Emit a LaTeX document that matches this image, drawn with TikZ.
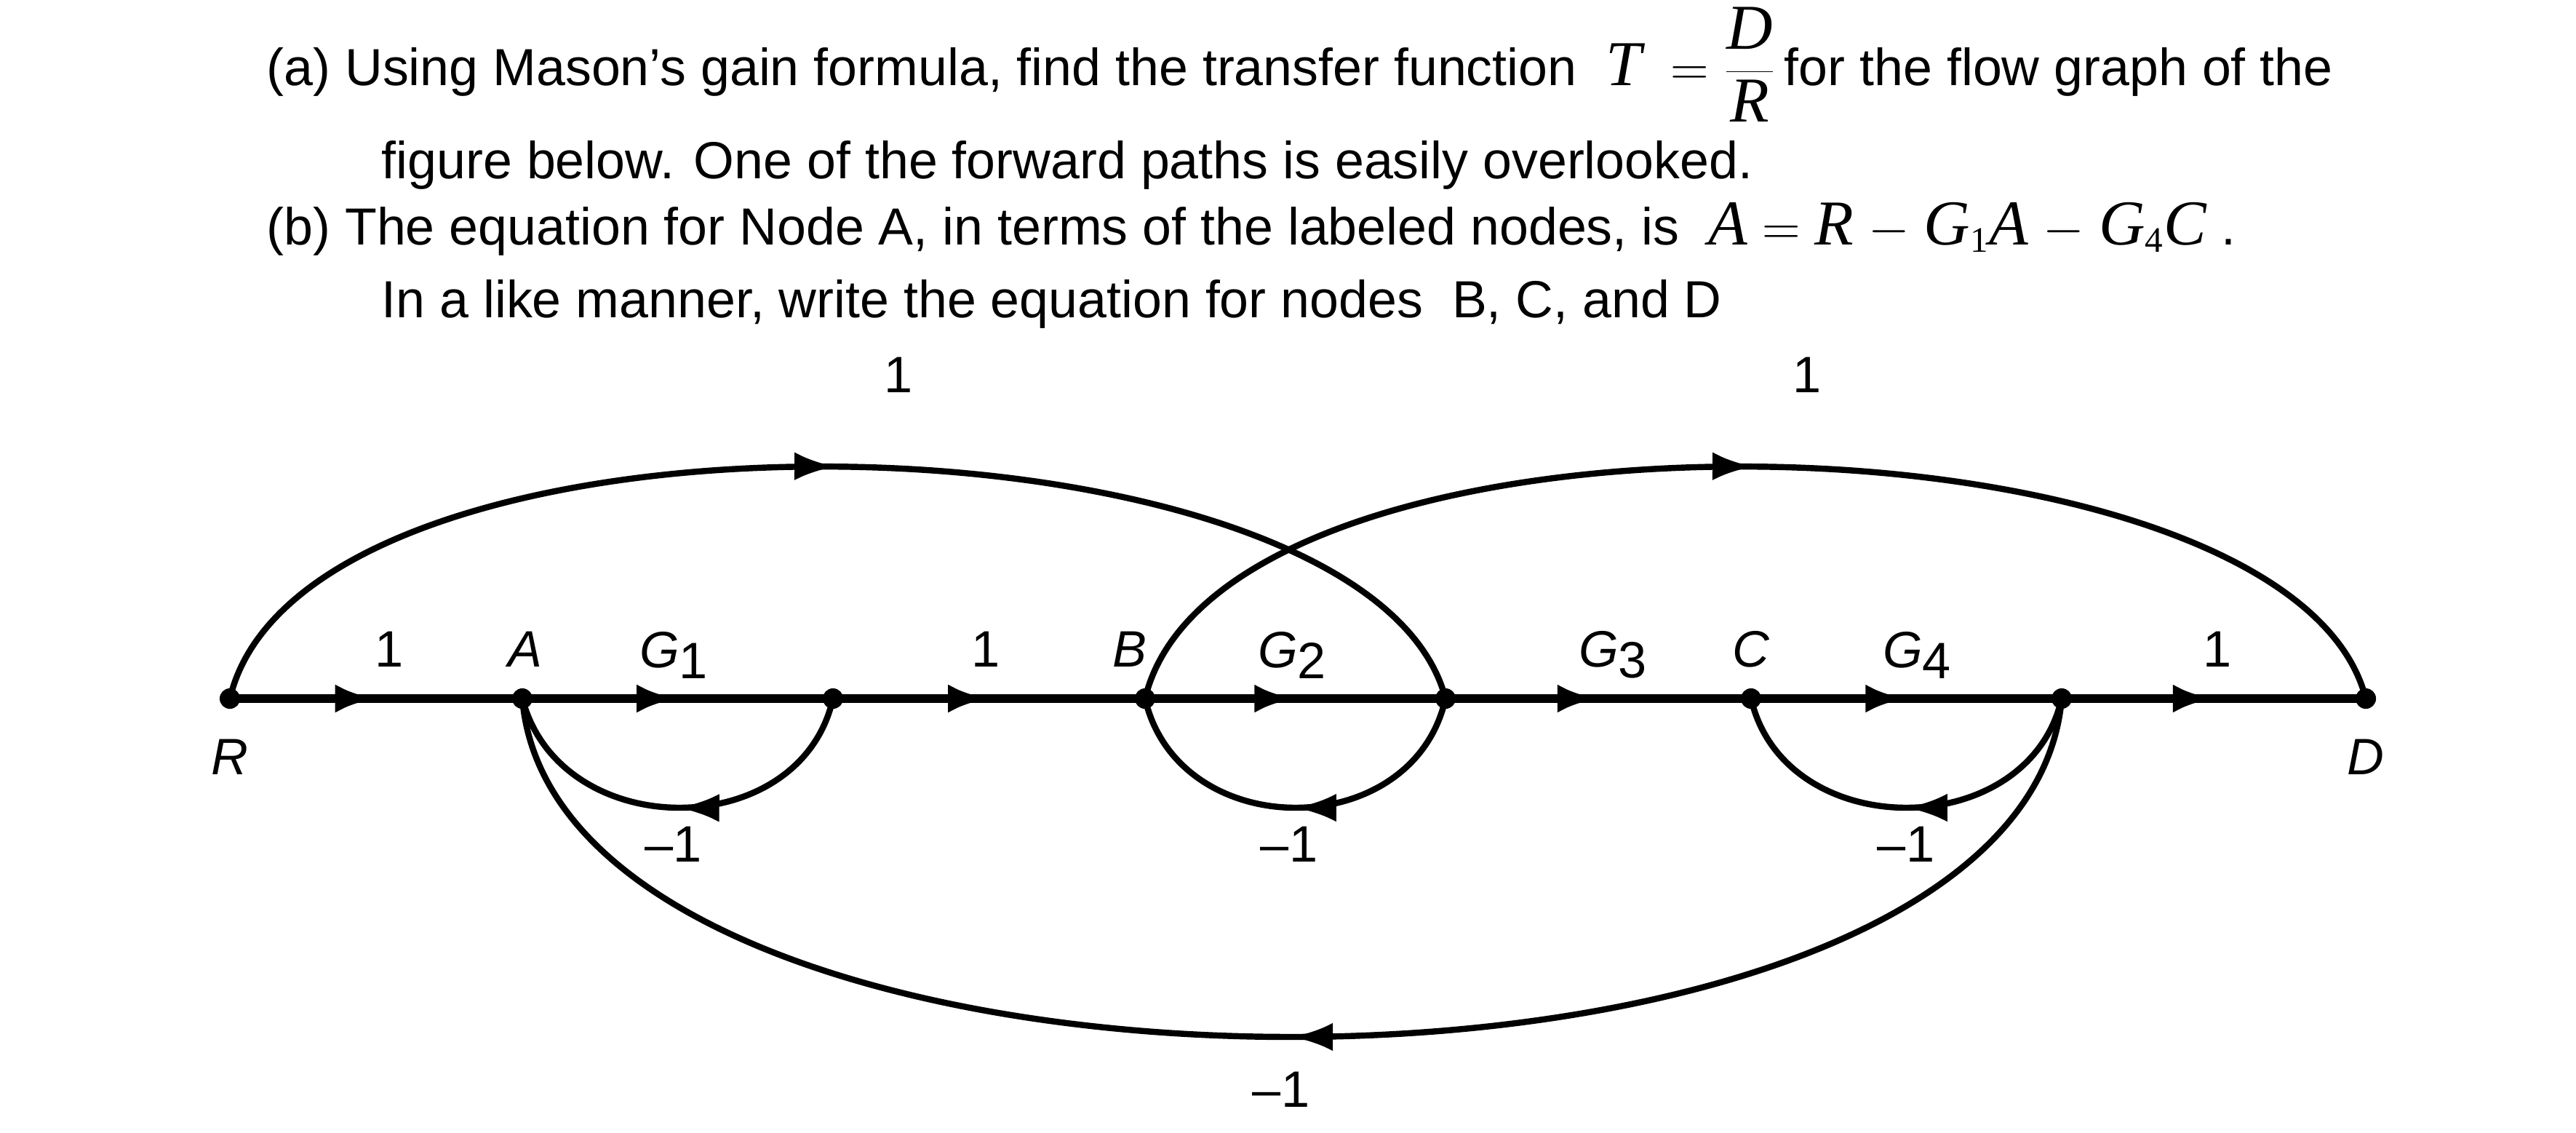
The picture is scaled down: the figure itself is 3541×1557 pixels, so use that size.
\documentclass[tikz,border=0pt]{standalone}
\usepackage{fontspec}
\setmainfont{Liberation Sans}
\newfontfamily\serif{Liberation Serif}
\usetikzlibrary{arrows.meta,decorations.markings}
\newcommand{\sit}[1]{\hbox{\serif\fontsize{25}{28}\selectfont\itshape #1}}
\newcommand{\ssub}[1]{\hbox{\serif\fontsize{14}{14}\selectfont #1}}
\tikzset{
 txt/.style={anchor=base west,inner sep=0pt,font=\fontsize{20.4}{24}\selectfont},
 lbl/.style={inner sep=0pt,font=\fontsize{20}{24}\selectfont\itshape},
 num/.style={inner sep=0pt,font=\fontsize{20}{24}\selectfont},
 dot/.style={circle,fill=black,inner sep=0pt,minimum size=8pt},
 tip/.style={decoration={markings,mark=at position 0.5 with {\arrow{Latex[length=16pt,width=11pt]}}}},
 main/.style={line width=3.4pt,postaction={decorate},tip},
 arc/.style={line width=2.4pt,postaction={decorate},tip}
}
\begin{document}
\begin{tikzpicture}[x=0.01cm,y=-0.01cm]
\useasboundingbox[fill=white] (0,0) rectangle (3541,1557);
% text
\node[txt] (t1) at (366,117) {(a) Using Mason’s gain formula, find the transfer function \ \sit{T}\;\;$=\displaystyle\frac{\sit{D}}{\sit{R}}$\,for the flow graph of the};
\node[txt] (t2) at (524,245) {figure below. One of the forward paths is easily overlooked.};
\node[txt] (t3) at (366,336) {(b) The equation for Node A, in terms of the labeled nodes, is \ \sit{A}\;$=$\;\sit{R}\;$-$\;\sit{G}$_{\ssub{1}}$\sit{A}\;$-$\;\sit{G}$_{\ssub{4}}$\sit{C}\;.};
\node[txt] (t4) at (524,436) {In a like manner, write the equation for nodes \ B, C, and D};
% nodes
\node[dot] (R) at (316,960) {};
\node[dot] (A) at (718,960) {};
\node[dot] (n1) at (1145,960) {};
\node[dot] (B) at (1574,960) {};
\node[dot] (n2) at (1987,960) {};
\node[dot] (C) at (2407,960) {};
\node[dot] (n3) at (2834,960) {};
\node[dot] (D) at (3252,960) {};
% main line
\draw[main] (R.center) -- (A.center);
\draw[main] (A.center) -- (n1.center);
\draw[main] (n1.center) -- (B.center);
\draw[main] (B.center) -- (n2.center);
\draw[main] (n2.center) -- (C.center);
\draw[main] (C.center) -- (n3.center);
\draw[main] (n3.center) -- (D.center);
% arcs
\draw[arc] (R.center) .. controls (420,520) and (1880,550) .. (n2.center);
\draw[arc] (B.center) .. controls (1680,520) and (3148,550) .. (D.center);
\draw[arc] (n1.center) .. controls (1100,1160) and (770,1160) .. (A.center);
\draw[arc] (n2.center) .. controls (1942,1160) and (1620,1160) .. (B.center);
\draw[arc] (n3.center) .. controls (2788,1160) and (2453,1160) .. (C.center);
\draw[arc] (n3.center) .. controls (2780,1580) and (770,1580) .. (A.center);
% labels
\node[lbl] at (316,1040) {R};
\node[lbl] at (3252,1040) {D};
\node[lbl] at (722,892) {A};
\node[lbl] at (1553,892) {B};
\node[lbl] at (2407,892) {C};
\node[lbl] at (926,900) {G\raisebox{-0.4ex}{\upshape 1}};
\node[lbl] at (1776,900) {G\raisebox{-0.4ex}{\upshape 2}};
\node[lbl] at (2217,900) {G\raisebox{-0.4ex}{\upshape 3}};
\node[lbl] at (2635,900) {G\raisebox{-0.4ex}{\upshape 4}};
\node[num] at (535,892) {1};
\node[num] at (1355,892) {1};
\node[num] at (3048,892) {1};
\node[num] at (1235,515) {1};
\node[num] at (2484,515) {1};
\node[num] at (926,1160) {\textendash 1};
\node[num] at (1772,1160) {\textendash 1};
\node[num] at (2620,1160) {\textendash 1};
\node[num] at (1761,1497) {\textendash 1};
\end{tikzpicture}
\end{document}
